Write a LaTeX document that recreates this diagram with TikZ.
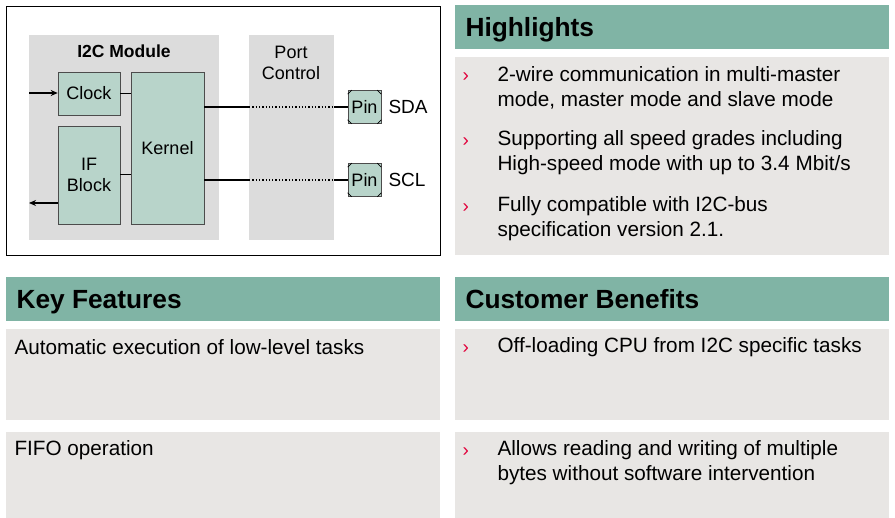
\documentclass[tikz,border=0pt]{standalone}
\usepackage{fontspec}
\setmainfont{Liberation Sans}
\usetikzlibrary{arrows.meta}
\begin{document}
\begin{tikzpicture}[x=1pt,y=-1pt,
 hdr/.style={fill=hd,draw=none},
 bod/.style={fill=bg,draw=none},
 grey/.style={fill=gp,draw=none},
 blk/.style={fill=bk,draw=black!70,line width=0.6pt},
 ht/.style={anchor=base west,font=\fontsize{26.3}{28}\selectfont\bfseries},
 bt/.style={anchor=west,font=\fontsize{20.7}{25}\selectfont,align=left},
 bul/.style={anchor=west,text=bul,font=\fontsize{19}{20}\selectfont},
 dt/.style={font=\fontsize{18}{21.5}\selectfont,align=center},
 wire/.style={line width=1.3pt},
 arr/.style={line width=1.1pt,-{Stealth[length=7pt,width=6pt]}}]
\definecolor{hd}{HTML}{80B4A5}
\definecolor{bg}{HTML}{E8E6E4}
\definecolor{gp}{HTML}{DCDCDC}
\definecolor{bk}{HTML}{B8D4CA}
\definecolor{bul}{HTML}{E2003A}
\useasboundingbox[fill=white] (0,0) rectangle (895,518);
% diagram
\draw[black,line width=0.8pt,fill=white] (6,6) rectangle (440,255);
\fill[grey] (29,35) rectangle (219,240);
\fill[grey] (249,35) rectangle (334,240);
\node[dt,font=\fontsize{17.5}{21}\selectfont\bfseries] (mod) at (124,51) {I2C Module};
\node[dt] (pc) at (291,63) {Port\\Control};
\node[blk,minimum width=62,minimum height=43,inner sep=0] (clk) at (89,93.5) {}; \node[dt] at (clk) {Clock};
\node[blk,minimum width=62,minimum height=98,inner sep=0] (ifb) at (89,175) {}; \node[dt] at (ifb) {IF\\Block};
\node[blk,minimum width=73,minimum height=152,inner sep=0] (ker) at (167.5,148) {}; \node[dt] at (ker) {Kernel};
\coordinate (in) at (29,93);
\coordinate (out) at (29,203);
\draw[arr] (in) -- (clk.west|-in);
\draw[arr] (ifb.west|-out) -- (out);
\draw[line width=1pt] (clk.east) -- (ker.west|-clk.east);
\draw[line width=1pt] (ifb.east) -- (ker.west|-ifb.east);
\foreach \n/\y/\l in {sda/107/SDA,scl/180/SCL}{
 \node[blk,minimum width=33,minimum height=33,inner sep=0] (p\n) at (364.5,\y) {};
 \node[font=\fontsize{18}{21}\selectfont] at (p\n) {Pin};
 \draw[black,line width=0.8pt] (p\n.north west)++(0,4) -- ++(4,-4) (p\n.north east)++(-4,0) -- ++(4,4)
   (p\n.south west)++(0,-4) -- ++(4,4) (p\n.south east)++(-4,0) -- ++(4,-4);
 \node[anchor=west,font=\fontsize{19}{21}\selectfont] (l\n) at (385,\y) {\l};
 \coordinate (a\n) at (249,\y); \coordinate (b\n) at (334,\y);
 \draw[wire] (ker.east|-a\n) -- (a\n);
 \draw[wire,dotted] (a\n) -- (b\n);
 \draw[wire] (b\n) -- (p\n.west);
}
% Highlights
\fill[hdr] (455,5) rectangle (889,49);
\node[ht] (h1) at (462,37) {Highlights};
\fill[bod] (455,57) rectangle (889,255);
\node[bul] at (459,77) {›}; \node[bt] at (494,87.5) {2-wire communication in multi-master\\mode, master mode and slave mode};
\node[bul] at (459,142) {›}; \node[bt] at (494,152.5) {Supporting all speed grades including\\High-speed mode with up to 3.4 Mbit/s};
\node[bul] at (459,208) {›}; \node[bt] at (494,218.5) {Fully compatible with I2C-bus\\specification version 2.1.};
% Key features
\fill[hdr] (6,277) rectangle (440,321);
\node[ht] (h2) at (13,309) {Key Features};
\fill[bod] (6,329) rectangle (440,420);
\fill[bod] (6,432) rectangle (440,518);
\node[bt] at (11,347) {Automatic execution of low-level tasks};
\node[bt] at (11,450) {FIFO operation};
% Customer benefits
\fill[hdr] (455,277) rectangle (889,321);
\node[ht] (h3) at (462,309) {Customer Benefits};
\fill[bod] (455,329) rectangle (889,420);
\fill[bod] (455,432) rectangle (889,518);
\node[bul] at (459,349) {›}; \node[bt] at (494,347) {Off-loading CPU from I2C specific tasks};
\node[bul] at (459,452) {›}; \node[bt] at (494,462.5) {Allows reading and writing of multiple\\bytes without software intervention};
\end{tikzpicture}
\end{document}
